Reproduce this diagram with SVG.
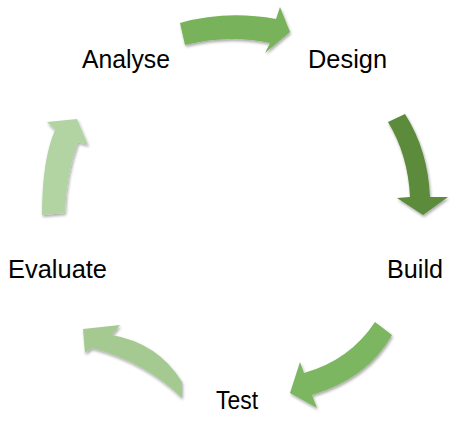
<svg xmlns="http://www.w3.org/2000/svg" width="474" height="421" viewBox="0 0 474 421">
<defs>
<filter id="sh" x="-20%" y="-20%" width="140%" height="140%">
<feGaussianBlur in="SourceAlpha" stdDeviation="1.6"/>
<feOffset dx="1" dy="2" result="b"/>
<feComponentTransfer><feFuncA type="linear" slope="0.35"/></feComponentTransfer>
<feMerge><feMergeNode/><feMergeNode in="SourceGraphic"/></feMerge>
</filter>
</defs>
<style>
.lbl{font-family:"Liberation Sans",Arial,sans-serif;font-size:25px;fill:#000}
.arr{filter:url(#sh)}
</style>
<rect width="474" height="421" fill="#fff"/>
<g id="connectors">
<path class="arr" fill="#78b25a" d="M180,23 Q226,10 276,19 L280,7 L290,32 L265,53 L270,43 Q228,34 185,45 Z"/>
<path class="arr" fill="#5c8b3a" d="M388,122 L405,114 Q428,150 430,197 L448,197 L423,215 L397,198 L410,197 Q408,155 388,122 Z"/>
<path class="arr" fill="#7cb660" d="M375,322 Q350,360 304,373 L300,362 L290,393 L317,408 L312,395 Q368,378 392,335 Z"/>
<path class="arr" fill="#a5ca91" d="M182,382 Q158,343 112,335 L120,325 L83,329 L85,353 L92,348 Q145,362 182,398 Z"/>
<path class="arr" fill="#b2d3a2" d="M42,215 Q42,160 55,130 L47,122 L77,119 L88,145 L78,142 Q66,175 65,213 Z"/>
</g>
<g id="analyse"><text class="lbl" x="82" y="68" textLength="88" lengthAdjust="spacingAndGlyphs">Analyse</text></g>
<g id="design"><text class="lbl" x="308" y="68" textLength="79" lengthAdjust="spacingAndGlyphs">Design</text></g>
<g id="build"><text class="lbl" x="387" y="278" textLength="56" lengthAdjust="spacingAndGlyphs">Build</text></g>
<g id="test"><text class="lbl" x="216" y="409" textLength="42" lengthAdjust="spacingAndGlyphs">Test</text></g>
<g id="evaluate"><text class="lbl" x="8" y="278" textLength="99" lengthAdjust="spacingAndGlyphs">Evaluate</text></g>
</svg>
